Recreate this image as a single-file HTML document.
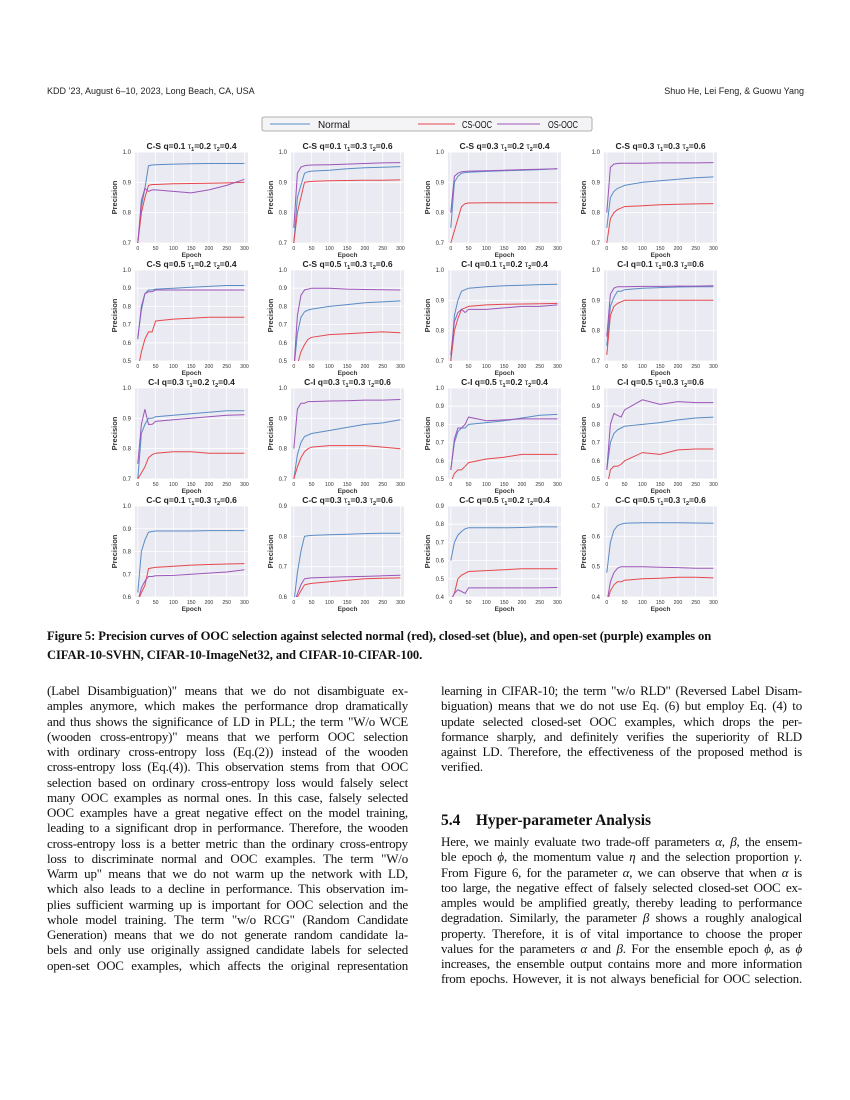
<!DOCTYPE html>
<html><head><meta charset="utf-8">
<style>
body{margin:0;background:#fff;}
#page{position:relative;width:850px;height:1100px;overflow:hidden;background:#fff;font-family:"Liberation Serif",serif;color:#111;}
.hdr{position:absolute;top:86px;font-family:"Liberation Sans",sans-serif;font-size:9px;color:#222;}
.cap{position:absolute;left:47px;width:760px;font-weight:bold;font-size:12.6px;line-height:19px;top:627px;letter-spacing:-0.1px;}
.col{position:absolute;width:361px;font-size:13px;line-height:15.25px;letter-spacing:-0.2px;}
.col div{text-align:justify;text-align-last:justify;white-space:nowrap;overflow:hidden;}
.col div.last{text-align-last:left;}
.h{position:absolute;left:441px;top:812px;font-size:15.5px;font-weight:bold;}
</style></head><body>
<div id="page">
<div class="hdr" style="left:47px">KDD ’23, August 6–10, 2023, Long Beach, CA, USA</div>
<div class="hdr" style="right:46px">Shuo He, Lei Feng, &amp; Guowu Yang</div>

<svg id="fig" width="850" height="620" style="position:absolute;left:0;top:0"></svg>

<div class="cap">Figure 5: Precision curves of OOC selection against selected normal (red), closed-set (blue), and open-set (purple) examples on<br>CIFAR-10-SVHN, CIFAR-10-ImageNet32, and CIFAR-10-CIFAR-100.</div>

<div class="col" style="left:47px;top:683px">
<div>(Label Disambiguation)" means that we do not disambiguate ex-</div>
<div>amples anymore, which makes the performance drop dramatically</div>
<div>and thus shows the significance of LD in PLL; the term "W/o WCE</div>
<div>(wooden cross-entropy)" means that we perform OOC selection</div>
<div>with ordinary cross-entropy loss (Eq.(2)) instead of the wooden</div>
<div>cross-entropy loss (Eq.(4)). This observation stems from that OOC</div>
<div>selection based on ordinary cross-entropy loss would falsely select</div>
<div>many OOC examples as normal ones. In this case, falsely selected</div>
<div>OOC examples have a great negative effect on the model training,</div>
<div>leading to a significant drop in performance. Therefore, the wooden</div>
<div>cross-entropy loss is a better metric than the ordinary cross-entropy</div>
<div>loss to discriminate normal and OOC examples. The term "W/o</div>
<div>Warm up" means that we do not warm up the network with LD,</div>
<div>which also leads to a decline in performance. This observation im-</div>
<div>plies sufficient warming up is important for OOC selection and the</div>
<div>whole model training. The term "w/o RCG" (Random Candidate</div>
<div>Generation) means that we do not generate random candidate la-</div>
<div>bels and only use originally assigned candidate labels for selected</div>
<div>open-set OOC examples, which affects the original representation</div>
</div>

<div class="col" style="left:441px;top:683px">
<div>learning in CIFAR-10; the term "w/o RLD" (Reversed Label Disam-</div>
<div>biguation) means that we do not use Eq. (6) but employ Eq. (4) to</div>
<div>update selected closed-set OOC examples, which drops the per-</div>
<div>formance sharply, and definitely verifies the superiority of RLD</div>
<div>against LD. Therefore, the effectiveness of the proposed method is</div>
<div class="last">verified.</div>
</div>
<div class="h">5.4&nbsp;&nbsp;&nbsp;&nbsp;Hyper-parameter Analysis</div>
<div class="col" style="left:441px;top:834px">
<div>Here, we mainly evaluate two trade-off parameters <i>α</i>, <i>β</i>, the ensem-</div>
<div>ble epoch <i>ϕ</i>, the momentum value <i>η</i> and the selection proportion <i>γ</i>.</div>
<div>From Figure 6, for the parameter <i>α</i>, we can observe that when <i>α</i> is</div>
<div>too large, the negative effect of falsely selected closed-set OOC ex-</div>
<div>amples would be amplified greatly, thereby leading to performance</div>
<div>degradation. Similarly, the parameter <i>β</i> shows a roughly analogical</div>
<div>property. Therefore, it is of vital importance to choose the proper</div>
<div>values for the parameters <i>α</i> and <i>β</i>. For the ensemble epoch <i>ϕ</i>, as <i>ϕ</i></div>
<div>increases, the ensemble output contains more and more information</div>
<div>from epochs. However, it is not always beneficial for OOC selection.</div>
</div>
</div>

<script>
const epochs = [0,10,20,30,40,50,100,150,200,250,300];
const xTicks = [0,50,100,150,200,250,300];
const titles = [
 ["C-S q=0.1","0.2","0.4"],["C-S q=0.1","0.3","0.6"],["C-S q=0.3","0.2","0.4"],["C-S q=0.3","0.3","0.6"],
 ["C-S q=0.5","0.2","0.4"],["C-S q=0.5","0.3","0.6"],["C-I q=0.1","0.2","0.4"],["C-I q=0.1","0.3","0.6"],
 ["C-I q=0.3","0.2","0.4"],["C-I q=0.3","0.3","0.6"],["C-I q=0.5","0.2","0.4"],["C-I q=0.5","0.3","0.6"],
 ["C-C q=0.1","0.3","0.6"],["C-C q=0.3","0.3","0.6"],["C-C q=0.5","0.2","0.4"],["C-C q=0.5","0.3","0.6"]];
const yMin = [0.7,0.7,0.7,0.7, 0.5,0.5,0.7,0.7, 0.7,0.7,0.5,0.5, 0.6,0.6,0.4,0.4];
const yMax = [1.0,1.0,1.0,1.0, 1.0,1.0,1.0,1.0, 1.0,1.0,1.0,1.0, 1.0,0.9,0.9,0.7];
const normal = [
 [.70,.82,.88,.955,.957,.958,.96,.961,.962,.962,.962],
 [.70,.85,.89,.93,.935,.937,.94,.945,.948,.95,.952],
 [.75,.90,.92,.93,.932,.933,.936,.938,.94,.942,.945],
 [.75,.85,.87,.88,.885,.89,.90,.905,.91,.915,.918],
 [.63,.78,.87,.89,.89,.895,.90,.905,.91,.915,.915],
 [.45,.65,.74,.77,.78,.785,.80,.81,.82,.825,.83],
 [.70,.85,.90,.93,.935,.94,.945,.948,.95,.952,.953],
 [.75,.88,.91,.93,.93,.935,.94,.942,.944,.945,.945],
 [.70,.85,.88,.90,.90,.905,.91,.915,.92,.925,.925],
 [.70,.78,.82,.84,.845,.85,.86,.87,.88,.885,.895],
 [.55,.70,.76,.78,.78,.80,.81,.82,.835,.85,.855],
 [.55,.70,.75,.77,.78,.79,.80,.81,.825,.835,.84],
 [.62,.80,.85,.885,.888,.89,.89,.89,.892,.892,.892],
 [.58,.68,.75,.80,.802,.803,.805,.807,.809,.81,.81],
 [.60,.70,.74,.76,.775,.78,.78,.78,.782,.785,.785],
 [.48,.58,.62,.635,.64,.643,.645,.645,.645,.644,.643]];
const csOOC = [
 [.70,.80,.85,.89,.893,.893,.895,.896,.897,.898,.90],
 [.70,.80,.85,.90,.902,.903,.905,.906,.907,.907,.908],
 [.70,.74,.78,.82,.83,.832,.833,.833,.833,.833,.833],
 [.70,.78,.80,.81,.815,.82,.823,.826,.828,.829,.83],
 [.45,.55,.62,.66,.66,.72,.73,.735,.74,.74,.74],
 [.40,.48,.55,.59,.62,.63,.645,.65,.655,.66,.655],
 [.70,.80,.84,.87,.875,.88,.885,.887,.888,.889,.89],
 [.72,.85,.88,.89,.895,.90,.90,.90,.90,.90,.90],
 [.70,.72,.74,.77,.78,.785,.79,.79,.785,.785,.785],
 [.70,.74,.77,.79,.80,.805,.81,.81,.81,.805,.80],
 [.48,.53,.55,.55,.57,.59,.61,.62,.635,.635,.635],
 [.45,.55,.57,.57,.58,.60,.645,.635,.66,.665,.665],
 [.58,.62,.65,.725,.728,.73,.735,.74,.743,.745,.747],
 [.58,.60,.62,.64,.643,.645,.65,.655,.66,.662,.663],
 [.38,.42,.50,.52,.53,.54,.545,.55,.555,.555,.555],
 [.38,.42,.44,.45,.45,.455,.46,.462,.465,.465,.463]];
const osOOC = [
 [.70,.84,.88,.87,.875,.875,.87,.865,.875,.89,.91],
 [.75,.93,.95,.955,.956,.957,.958,.96,.962,.964,.965],
 [.80,.92,.93,.935,.936,.937,.938,.94,.942,.943,.945],
 [.80,.95,.96,.962,.963,.963,.963,.964,.964,.964,.965],
 [.62,.80,.87,.88,.88,.89,.89,.89,.89,.89,.89],
 [.45,.75,.86,.89,.895,.90,.90,.895,.893,.892,.89],
 [.72,.83,.86,.87,.86,.87,.87,.875,.88,.88,.885],
 [.78,.92,.94,.945,.945,.945,.946,.946,.947,.947,.948],
 [.75,.88,.93,.88,.88,.89,.895,.90,.905,.91,.912],
 [.80,.93,.95,.95,.955,.955,.957,.958,.96,.96,.962],
 [.55,.72,.78,.78,.80,.84,.82,.825,.83,.83,.83],
 [.55,.80,.86,.85,.84,.88,.935,.91,.925,.92,.92],
 [.58,.64,.67,.69,.69,.693,.695,.70,.705,.71,.72],
 [.58,.61,.64,.66,.662,.663,.665,.667,.668,.67,.672],
 [.38,.42,.44,.43,.42,.45,.45,.45,.45,.45,.452],
 [.38,.45,.48,.495,.50,.50,.50,.498,.497,.495,.495]];

const NS='http://www.w3.org/2000/svg';
const svg=document.getElementById('fig');
function mk(tag,attrs,parent,text){const e=document.createElementNS(NS,tag);for(const k in attrs)e.setAttribute(k,attrs[k]);if(text!==undefined)e.textContent=text;(parent||svg).appendChild(e);return e;}
const colLeft=[135,291,448,604], rowTop=[152,270,388,506], W=113, H=91;
const colors=['#5a8cc4','#e5484d','#9c55b8'];
const seriesNames=['normal','cs-ooc','os-ooc'];

const lg=mk('g',{});


mk('rect',{x:262,y:117,width:330,height:14,rx:2,fill:'#f4f4f6',stroke:'#999','stroke-width':0.8},lg);
const legItems=[[270,310,318,'Normal',32],[418,455,462,'CS-OOC',30],[497,540,548,'OS-OOC',30]];
legItems.forEach((it,i)=>{
  const g=mk('g',{},lg);
  
  
  mk('line',{x1:it[0],x2:it[1],y1:124,y2:124,stroke:colors[i],'stroke-width':1},g);
  mk('text',{x:it[2],y:128,'font-size':10.5,textLength:it[4],lengthAdjust:'spacingAndGlyphs','font-family':'Liberation Sans, sans-serif',fill:'#111'},g,it[3]);
});

function yTicks(lo,hi){const t=[];for(let v=lo;v<=hi+1e-9;v+=0.1)t.push(Math.round(v*10)/10);return t;}

for(let p=0;p<16;p++){
  const L=colLeft[p%4], T=rowTop[Math.floor(p/4)];
  const g=mk('g',{});
  
  
  const xs=e=>L+(e+8)/318*W;
  const ys=v=>T+H-(v-yMin[p])/(yMax[p]-yMin[p])*H;
  mk('rect',{x:L,y:T,width:W,height:H,fill:'#eaeaf2'},g);
  xTicks.forEach(t=>{
    mk('line',{x1:xs(t),x2:xs(t),y1:T,y2:T+H,stroke:'#fff','stroke-width':0.8},g);
    const tx=mk('text',{x:xs(t),y:T+H+7,'font-size':5.2,'text-anchor':'middle','font-family':'Liberation Sans, sans-serif',fill:'#333'},g,String(t));
    
    
  });
  yTicks(yMin[p],yMax[p]).forEach(t=>{
    mk('line',{x1:L,x2:L+W,y1:ys(t),y2:ys(t),stroke:'#fff','stroke-width':0.8},g);
    const ty=mk('text',{x:L-4,y:ys(t)+2,'font-size':6,'text-anchor':'end','font-family':'Liberation Sans, sans-serif',fill:'#333'},g,t.toFixed(1));
    
    
  });
  const xl=mk('text',{x:L+W/2,y:T+H+14,'font-size':6.5,'font-weight':'bold','text-anchor':'middle','font-family':'Liberation Sans, sans-serif',fill:'#333'},g,'Epoch');
  
  
  const yl=mk('text',{x:0,y:0,transform:`translate(${L-18},${T+H/2}) rotate(-90)`,'font-size':7.5,'font-weight':'bold','text-anchor':'middle','font-family':'Liberation Sans, sans-serif',fill:'#333'},g,'Precision');
  
  
  const ti=mk('text',{x:L+W/2,y:T-3,'font-size':8.5,'font-weight':'bold','text-anchor':'middle','font-family':'Liberation Sans, DejaVu Sans, sans-serif',fill:'#222'},g);
  
  
  const tt=titles[p];
  ti.innerHTML=`${tt[0]} <tspan font-weight="normal">τ</tspan><tspan font-size="5.5" dy="2">1</tspan><tspan dy="-2">=${tt[1]} </tspan><tspan font-weight="normal">τ</tspan><tspan font-size="5.5" dy="2">2</tspan><tspan dy="-2">=${tt[2]}</tspan>`;
  const clip='c'+p;
  const cp=mk('clipPath',{id:clip},g);mk('rect',{x:L,y:T,width:W,height:H},cp);
  [normal[p],csOOC[p],osOOC[p]].forEach((arr,si)=>{
    const d=arr.map((v,i)=>(i?'L':'M')+xs(epochs[i]).toFixed(1)+','+ys(v).toFixed(1)).join(' ');
    const ln=mk('path',{d:d,fill:'none',stroke:colors[si],'stroke-width':1,'clip-path':`url(#${clip})`},g);
    
    
  });
}
</script>
</body></html>
